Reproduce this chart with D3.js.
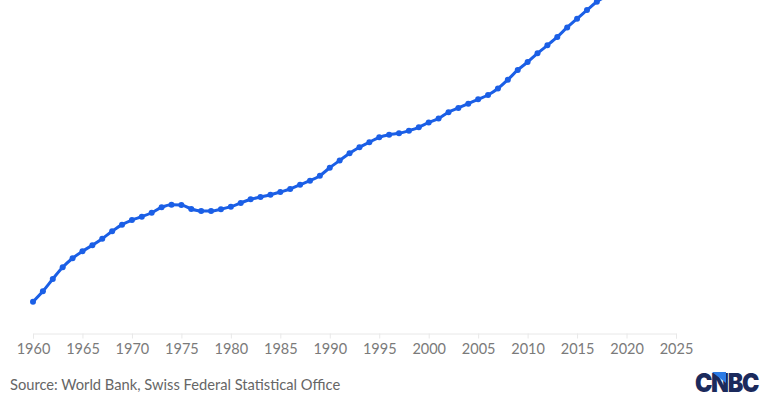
<!DOCTYPE html>
<html>
<head>
<meta charset="utf-8">
<script src="https://cdn.jsdelivr.net/npm/d3@7"></script>
<style>
  body { margin: 0; background: #fff; }
  svg { display: block; }
  .tick text { font-family: Lato, "Noto Sans", sans-serif; font-size: 14.5px; fill: #7a7a7a; }
</style>
</head>
<body>
<script>
// Swiss population, millions
var years = [1960, 1961, 1962, 1963, 1964, 1965, 1966, 1967, 1968, 1969,
             1970, 1971, 1972, 1973, 1974, 1975, 1976, 1977, 1978, 1979,
             1980, 1981, 1982, 1983, 1984, 1985, 1986, 1987, 1988, 1989,
             1990, 1991, 1992, 1993, 1994, 1995, 1996, 1997, 1998, 1999,
             2000, 2001, 2002, 2003, 2004, 2005, 2006, 2007, 2008, 2009,
             2010, 2011, 2012, 2013, 2014, 2015, 2016, 2017, 2018];
var population = [5.331, 5.44, 5.568, 5.69, 5.784, 5.857, 5.92, 5.988, 6.065, 6.134,
                  6.182, 6.217, 6.258, 6.315, 6.342, 6.339, 6.297, 6.276, 6.276, 6.294,
                  6.321, 6.36, 6.398, 6.422, 6.446, 6.474, 6.505, 6.55, 6.592, 6.644,
                  6.727, 6.802, 6.877, 6.94, 6.992, 7.044, 7.071, 7.085, 7.113, 7.148,
                  7.198, 7.24, 7.305, 7.349, 7.394, 7.44, 7.484, 7.552, 7.644, 7.745,
                  7.828, 7.919, 8.002, 8.089, 8.188, 8.279, 8.369, 8.456, 8.515];
var tick_years = [1960, 1965, 1970, 1975, 1980, 1985, 1990, 1995, 2000, 2005, 2010, 2015, 2020, 2025];

var width = 768, height = 402;
var svg = d3.select("body").append("svg")
    .attr("width", width)
    .attr("height", height);

var x = d3.scaleLinear().domain([1960, 2025]).range([33, 676]);
var y = d3.scaleLinear().domain([5, 9]).range([333.5, -50.5]);

// x axis
var xAxis = d3.axisBottom(x)
    .tickValues(tick_years)
    .tickFormat(d3.format("d"))
    .tickSize(5)
    .tickPadding(5);

var axisG = svg.append("g")
    .attr("transform", "translate(0,333.5)")
    .call(xAxis);
axisG.select(".domain").attr("stroke", "#e8e8e8").attr("stroke-width", 1);
axisG.selectAll(".tick line").attr("stroke", "#e8e8e8");

var points = years.map(function(yr, i) { return [yr, population[i]]; });

// line
var line = d3.line()
    .x(function(d) { return x(d[0]); })
    .y(function(d) { return y(d[1]); })
    .curve(d3.curveMonotoneX);

svg.append("path")
    .datum(points)
    .attr("fill", "none")
    .attr("stroke", "#1b5fe6")
    .attr("stroke-width", 3)
    .attr("d", line);

svg.selectAll(".dot")
    .data(points)
    .enter().append("circle")
    .attr("class", "dot")
    .attr("cx", function(d) { return x(d[0]); })
    .attr("cy", function(d) { return y(d[1]); })
    .attr("r", 3)
    .attr("fill", "#1b5fe6");

// source note
svg.append("text")
    .text("Source: World Bank, Swiss Federal Statistical Office")
    .attr("x", 10)
    .attr("y", 390)
    .attr("font-family", "Lato, 'Noto Sans', sans-serif")
    .attr("font-size", 14.7)
    .attr("fill", "#666");

// CNBC logo
var logo = svg.append("g").attr("transform", "translate(695,392)");
logo.append("text")
    .text("CNBC")
    .attr("x", 0)
    .attr("y", 0)
    .attr("font-family", "Inter, 'DejaVu Sans', sans-serif")
    .attr("font-weight", 900)
    .attr("font-size", 26)
    .attr("letter-spacing", -1.5)
    .attr("textLength", 63)
    .attr("lengthAdjust", "spacingAndGlyphs")
    .attr("fill", "#1b2a5c");
logo.append("path")
    .attr("d", "M17,-20 L31,-20 L31,-9 Z")
    .attr("fill", "#2c7be5");
</script>
</body>
</html>
